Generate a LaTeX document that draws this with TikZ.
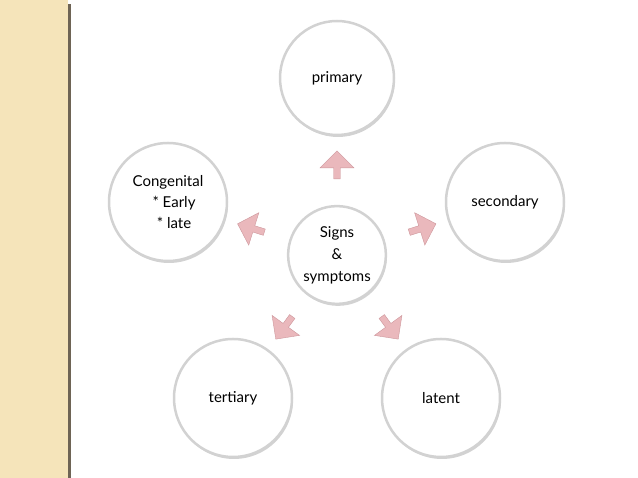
\documentclass[tikz,border=0pt]{standalone}
\usepackage{fontspec}
\setmainfont{Lato}
\usetikzlibrary{shapes.arrows,shadows,calc}
\definecolor{strip}{RGB}{245,228,186}
\definecolor{stripedge}{RGB}{110,100,85}
\definecolor{arrowpink}{RGB}{234,184,188}
\definecolor{arrowedge}{RGB}{205,150,155}

\begin{document}
\begin{tikzpicture}[x=1pt,y=1pt]
\tikzset{
  bubble/.style={draw=gray!35, line width=2.5pt, circle, fill=white,
    drop shadow={shadow xshift=1pt, shadow yshift=-2pt, opacity=0.35},
    minimum size=118pt, font=\fontsize{15}{18}\selectfont, align=center},
  hub/.style={bubble, minimum size=92pt},
  flow/.style={single arrow, draw=arrowedge, fill=arrowpink, sloped,
    allow upside down, minimum height=28pt, minimum width=34pt,
    single arrow head extend=5pt, inner sep=1pt}
}
\useasboundingbox (0,0) rectangle (638,478);
% side strip
\fill[strip] (0,0) rectangle (68,478);
\fill[stripedge] (68,0) rectangle (71,474);

\node[hub] (signs) at (337,223) {Signs\\[4pt]\&\\[4pt]symptoms};
\node[bubble, minimum size=114pt] (primary) at (337,400) {primary};
\node[bubble] (secondary) at (505,276) {secondary};
\node[bubble] (latent) at (441,80) {latent};
\node[bubble] (tertiary) at (233,80) {tertiary};
\node[bubble] (congenital) at (168,276) {Congenital\\[3pt]\hspace*{12pt}* Early\\[3pt]\hspace*{12pt}* late};

% arrows from the hub
\foreach \n in {primary,secondary,latent,tertiary,congenital}
  \path (signs.center) -- (\n.center) node[flow, pos=0.5] (to-\n) {};
\end{tikzpicture}
\end{document}
